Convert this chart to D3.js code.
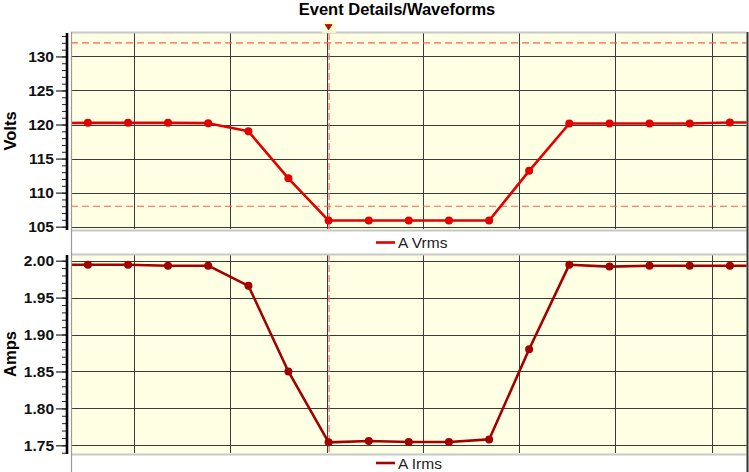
<!DOCTYPE html>
<html>
<head>
<meta charset="utf-8">
<script src="https://cdn.jsdelivr.net/npm/d3@7"></script>
<style>
	body { margin: 0; background: #fff; }
	svg { display: block; font-family: "Liberation Sans", Arial, sans-serif; }
</style>
</head>
<body>
<svg id="chart" width="749" height="472"></svg>
<script>

// sample times in ms (one sample per 60 Hz cycle), trigger at 0
var timeMs = [-116.7, -100, -83.3, -66.7, -50, -33.3, -16.7, 0, 16.7, 33.3, 50,
	66.7, 83.3, 100, 116.7, 133.3, 150, 166.7, 183.3];

var vrms = [120.2, 120.25, 120.25, 120.25, 120.2, 119.0, 112.1, 105.9, 105.9, 105.9,
	105.9, 105.9, 113.2, 120.15, 120.15, 120.15, 120.15, 120.3, 120.3];

var irms = [1.9946, 1.9946, 1.9946, 1.9932, 1.9932, 1.966, 1.85, 1.754, 1.7558, 1.7545,
	1.7545, 1.758, 1.88, 1.9946, 1.992, 1.9932, 1.9932, 1.9932, 1.9932];

var voltTicks = [105, 110, 115, 120, 125, 130];
var ampTicks = [1.75, 1.80, 1.85, 1.90, 1.95, 2.00];
var timeGrid = [-80, -40, 0, 40, 80, 120, 160];
var voltLimits = [132, 108];
var triggerMs = 0;

var LEFT = 71, RIGHT = 746.5;
var GRID = "#3a3a3a", PANEL_BG = "#ffffe3", FRAME = "#c8c8c8";

var svg = d3.select("#chart");

var x = d3.scaleLinear().domain([-107, 173.6]).range([LEFT, RIGHT]);

var panels = [
	{ id: "v", top: 33, bottom: 229, domain: [104.66, 133.44], ticks: voltTicks, minor: 1,
	  fmt: d3.format("d"), values: vrms, color: "#e30000", label: "Volts", legend: "A Vrms",
	  legendY: 242.5, limits: voltLimits },
	{ id: "a", top: 255, bottom: 453, domain: [1.7396, 2.0077], ticks: ampTicks, minor: 0.01,
	  fmt: d3.format(".2f"), values: irms, color: "#a30000", label: "Amps", legendY: 463,
	  legend: "A Irms", limits: [] }
];

// title
svg.append("text")
	.attr("x", 397).attr("y", 15)
	.attr("text-anchor", "middle")
	.style("font-weight", "bold").style("font-size", "16.5px")
	.text("Event Details/Waveforms");

// white legend strips behind everything
svg.append("rect").attr("x", LEFT).attr("y", 33).attr("width", RIGHT - LEFT).attr("height", 472 - 33)
	.style("fill", "#fff");

panels.forEach(function(p) {

	var y = d3.scaleLinear().domain(p.domain).range([p.bottom, p.top]);
	var g = svg.append("g");

	g.append("clipPath").attr("id", "clip" + p.id)
		.append("rect").attr("x", LEFT).attr("y", p.top)
		.attr("width", RIGHT - LEFT).attr("height", p.bottom - p.top);

	g.append("rect")
		.attr("x", LEFT).attr("y", p.top)
		.attr("width", RIGHT - LEFT).attr("height", p.bottom - p.top)
		.style("fill", PANEL_BG);

	// grid
	g.selectAll(".hgrid").data(p.ticks).enter().append("line")
		.attr("x1", LEFT).attr("x2", RIGHT)
		.attr("y1", function(d) { return Math.round(y(d)) + 0.5; })
		.attr("y2", function(d) { return Math.round(y(d)) + 0.5; })
		.style("stroke", GRID).style("stroke-width", 1);

	g.selectAll(".vgrid").data(timeGrid).enter().append("line")
		.attr("x1", function(d) { return Math.round(x(d)) - 1.5; })
		.attr("x2", function(d) { return Math.round(x(d)) - 1.5; })
		.attr("y1", p.top).attr("y2", p.bottom)
		.style("stroke", GRID).style("stroke-width", 1);

	// limit lines
	g.selectAll(".limit").data(p.limits).enter().append("line")
		.attr("x1", LEFT).attr("x2", RIGHT)
		.attr("y1", function(d) { return y(d); })
		.attr("y2", function(d) { return y(d); })
		.style("stroke", "#ff5a5a").style("stroke-width", 1.2)
		.style("stroke-dasharray", "7,4");

	// trigger
	g.append("line")
		.attr("x1", x(triggerMs) + 0.5).attr("x2", x(triggerMs) + 0.5)
		.attr("y1", p.top).attr("y2", p.bottom)
		.style("stroke", "#ff6a6a").style("stroke-width", 1.2)
		.style("stroke-dasharray", "7,3");

	// frame lines top and bottom of panel
	g.append("line").attr("x1", LEFT).attr("x2", RIGHT)
		.attr("y1", p.top - 0.5).attr("y2", p.top - 0.5)
		.style("stroke", FRAME).style("stroke-width", 2);
	g.append("line").attr("x1", LEFT).attr("x2", RIGHT)
		.attr("y1", p.bottom + 1.5).attr("y2", p.bottom + 1.5)
		.style("stroke", FRAME).style("stroke-width", 2);

	// series
	var line = d3.line()
		.x(function(d, i) { return x(timeMs[i]); })
		.y(function(d) { return y(d); });

	var series = g.append("g").attr("clip-path", "url(#clip" + p.id + ")");

	series.append("path")
		.datum(p.values)
		.attr("d", line)
		.style("fill", "none")
		.style("stroke", p.color).style("stroke-width", 2.6)
		.style("stroke-linejoin", "round");

	series.selectAll("circle").data(p.values).enter().append("circle")
		.attr("cx", function(d, i) { return x(timeMs[i]); })
		.attr("cy", function(d) { return y(d); })
		.attr("r", 4)
		.style("fill", p.color);

	// axis
	var minorTicks = d3.range(p.domain[0], p.domain[1], p.minor).map(function(v) {
		return Math.ceil(p.domain[0] / p.minor) * p.minor + (v - p.domain[0]);
	}).filter(function(v) { return v <= p.domain[1]; });

	var axisG = g.append("g").attr("transform", "translate(66,0)");

	axisG.call(d3.axisLeft(y).tickValues(minorTicks).tickSize(4).tickFormat(""))
		.call(function(s) { s.select(".domain").remove(); })
		.selectAll("line").style("stroke", "#222");

	var major = g.append("g").attr("transform", "translate(66,0)")
		.call(d3.axisLeft(y).tickValues(p.ticks).tickSize(10).tickPadding(2).tickFormat(p.fmt));
	major.select(".domain").remove();
	major.selectAll("line").style("stroke", "#222").style("stroke-width", 1.2);
	major.selectAll("text")
		.style("font-family", "'Liberation Sans', Arial, sans-serif")
		.style("font-size", "15.5px").style("font-weight", "bold")
		.style("fill", "#111");

	g.append("line").attr("x1", 67).attr("x2", 67)
		.attr("y1", p.top).attr("y2", p.bottom + 1)
		.style("stroke", "#000").style("stroke-width", 2.6);

	// axis title
	g.append("text")
		.attr("transform", "translate(16," + ((p.top + p.bottom) / 2) + ") rotate(-90)")
		.attr("text-anchor", "middle")
		.style("font-weight", "bold").style("font-size", "16.5px")
		.text(p.label);

	// legend
	g.append("line")
		.attr("x1", 376).attr("x2", 395)
		.attr("y1", p.legendY).attr("y2", p.legendY)
		.style("stroke", p.color).style("stroke-width", 2.6);
	g.append("text")
		.attr("x", 398).attr("y", p.legendY + 5.5)
		.style("font-size", "15.5px").style("fill", "#222")
		.text(p.legend);
});

// left frame line and right border
svg.append("line").attr("x1", LEFT + 0.5).attr("x2", LEFT + 0.5).attr("y1", 32).attr("y2", 472)
	.style("stroke", "#9a9a9a").style("stroke-width", 1.2);
svg.append("line").attr("x1", 747.5).attr("x2", 747.5).attr("y1", 32).attr("y2", 472)
	.style("stroke", "#333").style("stroke-width", 2);

// trigger marker
svg.append("rect").attr("x", 322).attr("y", 21).attr("width", 14).attr("height", 12)
	.style("fill", "#ffffcc").style("opacity", 0.8);
svg.append("path")
	.attr("d", d3.line()([[x(triggerMs) - 3.5, 24.5], [x(triggerMs) + 3.5, 24.5], [x(triggerMs), 30]]) + "Z")
	.style("fill", "#d00000").style("stroke", "#700").style("stroke-width", 0.6);

</script>
</body>
</html>
